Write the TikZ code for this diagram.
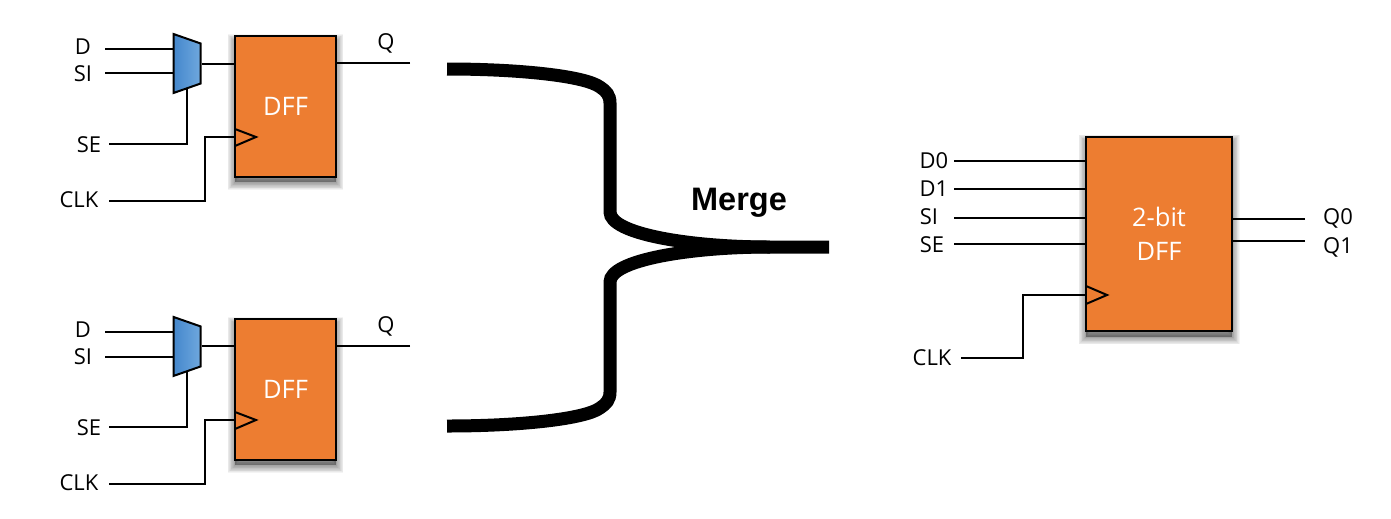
\documentclass[tikz,border=0pt]{standalone}
\usepackage{fontspec}
\setmainfont{Open Sans}
\newfontfamily\mergefont{Liberation Sans}
\usepackage{xcolor}
\usetikzlibrary{positioning,shapes.geometric}
\definecolor{dfforange}{HTML}{ED7D31}
\definecolor{muxdark}{HTML}{4487CC}
\definecolor{muxlight}{HTML}{6FA8DE}
\tikzset{
    softlayer/.style={preaction={draw=black, fill=black, opacity=0.045, line width=#1,
        transform canvas={yshift=-0.11cm}}},
    softshadow/.style={softlayer=0.30cm, softlayer=0.27cm, softlayer=0.24cm, softlayer=0.21cm,
        softlayer=0.18cm, softlayer=0.15cm, softlayer=0.12cm, softlayer=0.09cm,
        softlayer=0.06cm, softlayer=0.03cm},
    dffbox/.style={draw, rectangle, fill=dfforange, text=white, softshadow, inner sep=0pt,
        align=center, font=\fontsize{14.5}{19.5}\selectfont},
    muxbox/.style={draw, trapezium, shape border rotate=270, trapezium angle=76.5,
        trapezium stretches=true, left color=muxdark, right color=muxlight, inner sep=0pt,
        minimum width=1.18cm, minimum height=0.54cm},
    lbl/.style={inner sep=0pt, font=\fontsize{12.5}{15}\selectfont},
    wire/.style={line width=0.04cm},
    fatwire/.style={line width=0.26cm}
}
\begin{document}
\begin{tikzpicture}[x=0.02cm, y=-0.02cm, line width=0.04cm, line join=miter]
    \useasboundingbox (0,0) rectangle (1391,518);

    % Bloques
    \node [dffbox, minimum width=2.02cm, minimum height=2.82cm] (dffa) at (285.5,106.5) {DFF};
    \node [dffbox, minimum width=2.02cm, minimum height=2.82cm, below of=dffa, node distance=5.66cm] (dffb) {DFF};
    \node [dffbox, minimum width=2.92cm, minimum height=3.90cm] (dffc) at (1159,234) {2-bit\\DFF};
    \node [muxbox] (muxa) at (187,63.5) {\phantom{x}};
    \node [muxbox, below of=muxa, node distance=5.66cm] (muxb) {\phantom{x}};

    % Etiquetas
    \node [lbl] (da) at (83,47) {D};
    \node [lbl] (sia) at (83,74) {SI};
    \node [lbl] (sea) at (89,145) {SE};
    \node [lbl] (clka) at (79,200) {CLK};
    \node [lbl] (qa) at (386,43) {Q};
    \node [lbl] (db) at (83,330) {D};
    \node [lbl] (sib) at (83,357) {SI};
    \node [lbl] (seb) at (89,428) {SE};
    \node [lbl] (clkb) at (79,483) {CLK};
    \node [lbl] (qb) at (386,326) {Q};
    \node [lbl] (dzero) at (934,161) {D0};
    \node [lbl] (done) at (934,189) {D1};
    \node [lbl] (sic) at (929,217) {SI};
    \node [lbl] (sec) at (932,245) {SE};
    \node [lbl] (clkc) at (932,358) {CLK};
    \node [lbl] (qzero) at (1338,218) {Q0};
    \node [lbl] (qone) at (1338,247) {Q1};
    \node [inner sep=0pt, font=\mergefont\bfseries\fontsize{18.5}{22}\selectfont] (merge) at (739,203) {Merge};

    % Puntos libres
    \coordinate (inda) at (105,49);
    \coordinate (insia) at (105,73);
    \coordinate (insea) at (109,144);
    \coordinate (inclka) at (109,201);
    \coordinate (outqa) at (410,63);
    \coordinate (indb) at (105,332);
    \coordinate (insib) at (105,357);
    \coordinate (inseb) at (109,427);
    \coordinate (inclkb) at (109,484);
    \coordinate (outqb) at (410,346);
    \coordinate (indzero) at (954,161);
    \coordinate (indone) at (954,189);
    \coordinate (insic) at (954,218);
    \coordinate (insec) at (954,244);
    \coordinate (inclkc) at (961,358);
    \coordinate (outqzero) at (1305,219);
    \coordinate (outqone) at (1305,241);
    \coordinate (clkpa) at (235,137);
    \coordinate (clkpb) at (235,420);
    \coordinate (clkpc) at (1086,295);
    \coordinate (mergea) at (447,69);
    \coordinate (mergeb) at (447,426);
    \coordinate (mergeout) at (829,247);

    % Flip-flop de arriba
    \draw[wire] (inda) -- (inda -| muxa.west);
    \draw[wire] (insia) -- (insia -| muxa.west);
    \draw[wire] (muxa.east) -- (muxa.east -| dffa.west);
    \draw[wire] (insea) -| (muxa.south);
    \draw[wire] (inclka) -| (205,137) -- (clkpa);
    \draw[wire] (outqa) -- (outqa -| dffa.east);
    \draw[wire] (235,129) -- (256,137) -- (235,146);

    % Flip-flop de abajo
    \draw[wire] (indb) -- (indb -| muxb.west);
    \draw[wire] (insib) -- (insib -| muxb.west);
    \draw[wire] (muxb.east) -- (muxb.east -| dffb.west);
    \draw[wire] (inseb) -| (muxb.south);
    \draw[wire] (inclkb) -| (205,420) -- (clkpb);
    \draw[wire] (outqb) -- (outqb -| dffb.east);
    \draw[wire] (235,412) -- (256,420) -- (235,429);

    % Flip-flop de 2 bits
    \draw[wire] (indzero) -- (indzero -| dffc.west);
    \draw[wire] (indone) -- (indone -| dffc.west);
    \draw[wire] (insic) -- (insic -| dffc.west);
    \draw[wire] (insec) -- (insec -| dffc.west);
    \draw[wire] (outqzero) -- (outqzero -| dffc.east);
    \draw[wire] (outqone) -- (outqone -| dffc.east);
    \draw[wire] (inclkc) -| (1023,295) -- (clkpc);
    \draw[wire] (1086,286) -- (1107,295) -- (1086,304);

    % Llave de union
    \draw[fatwire] (mergea) .. controls (520,69) and (585,76) .. (600,87) .. controls (606,91) and (610,95) .. (610,103) -- (610,212)
        .. controls (610,234) and (690,247) .. (770,247) -- (mergeout);
    \draw[fatwire] (mergeb) .. controls (520,426) and (585,419) .. (600,408) .. controls (606,404) and (610,400) .. (610,392) -- (610,282)
        .. controls (610,260) and (690,247) .. (770,247);
\end{tikzpicture}
\end{document}
